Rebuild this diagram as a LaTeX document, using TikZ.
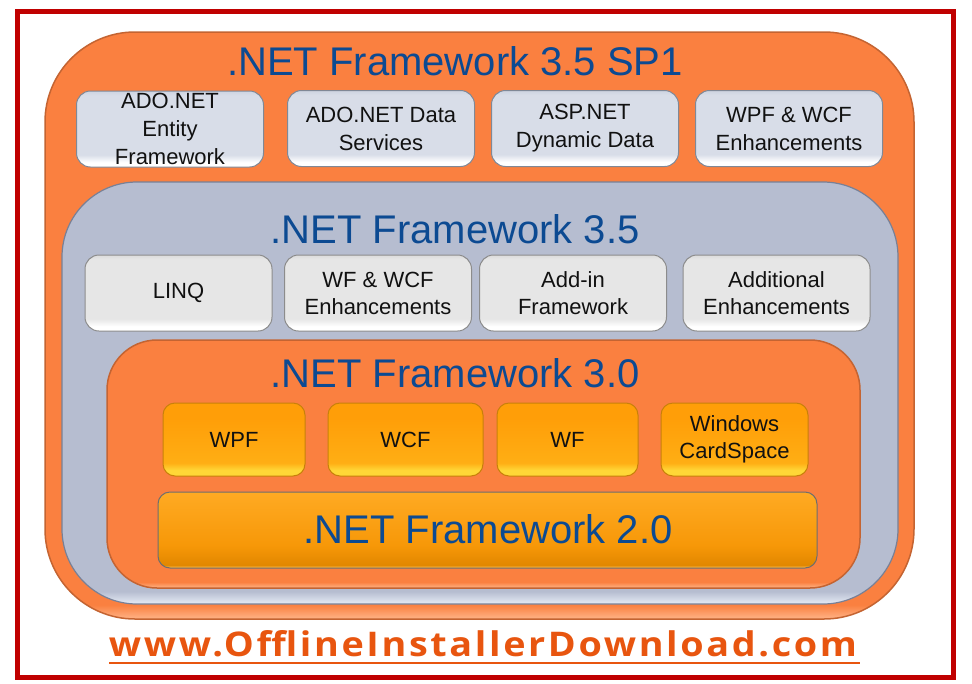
\documentclass[tikz,border=0pt]{standalone}
\usepackage{graphicx}
\usepackage{fontspec}
\setmainfont{Liberation Sans}
\newfontfamily\urlfont{Open Sans}[LetterSpace=7]
\definecolor{frameRed}{RGB}{192,0,0}
\definecolor{orMain}{RGB}{250,128,64}
\definecolor{orLight}{RGB}{255,180,135}
\definecolor{orEdge}{RGB}{196,100,50}
\definecolor{gbMain}{RGB}{182,189,208}
\definecolor{gbLight}{RGB}{230,236,246}
\definecolor{gbEdge}{RGB}{120,128,150}
\definecolor{btnA}{RGB}{216,221,232}
\definecolor{btnB}{RGB}{206,212,225}
\definecolor{btnEdge}{RGB}{128,136,150}
\definecolor{lgA}{RGB}{230,230,230}
\definecolor{lgB}{RGB}{220,220,220}
\definecolor{lgEdge}{RGB}{140,140,140}
\definecolor{yoA}{RGB}{255,158,8}
\definecolor{yoB}{RGB}{255,174,20}
\definecolor{yoC}{RGB}{255,215,55}
\definecolor{yoEdge}{RGB}{200,128,10}
\definecolor{nfA}{RGB}{255,170,35}
\definecolor{nfB}{RGB}{247,152,8}
\definecolor{nfC}{RGB}{226,135,0}
\definecolor{nfD}{RGB}{255,192,75}
\definecolor{nfEdge}{RGB}{110,110,110}
\definecolor{titleBlue}{RGB}{12,74,146}
\definecolor{urlOrange}{RGB}{232,85,15}
\definecolor{boxText}{RGB}{17,17,17}
\pgfdeclareverticalshading{orpanel}{100bp}{color(0bp)=(orLight); color(25bp)=(orLight); color(26.2bp)=(orMain); color(100bp)=(orMain)}
\pgfdeclareverticalshading{gbpanel}{100bp}{color(0bp)=(gbLight); color(25bp)=(gbLight); color(26.5bp)=(gbMain); color(100bp)=(gbMain)}
\pgfdeclareverticalshading{graybtn}{100bp}{color(0bp)=(white); color(25bp)=(white); color(28bp)=(white); color(33bp)=(btnA); color(72bp)=(btnA); color(75bp)=(btnB); color(100bp)=(btnB)}
\pgfdeclareverticalshading{lgbtn}{100bp}{color(0bp)=(white); color(25bp)=(white); color(28bp)=(white); color(33bp)=(lgA); color(72bp)=(lgA); color(75bp)=(lgB); color(100bp)=(lgB)}
\pgfdeclareverticalshading{yobtn}{100bp}{color(0bp)=(yoC); color(25bp)=(yoC); color(29bp)=(yoC); color(34bp)=(yoB); color(65bp)=(yoA); color(100bp)=(yoA)}
\pgfdeclareverticalshading{nfbtn}{100bp}{color(0bp)=(nfD); color(25bp)=(nfD); color(27bp)=(nfC); color(40bp)=(nfB); color(75bp)=(nfA); color(100bp)=(nfA)}
\begin{document}
\begin{tikzpicture}[x=1pt,y=-1pt,
  every node/.style={inner sep=0pt, outer sep=0pt},
  panelor/.style={shade, shading=orpanel, draw=orEdge, line width=1.5pt},
  panelgb/.style={shade, shading=gbpanel, draw=gbEdge, line width=1.2pt},
  sponebox/.style={shade, shading=graybtn, draw=btnEdge, line width=1pt, rounded corners=14pt,
    minimum width=187pt, minimum height=76pt, align=center, text=boxText, font=\fontsize{22}{28}\selectfont},
  lgbox/.style={shade, shading=lgbtn, draw=lgEdge, line width=1pt, rounded corners=14pt,
    minimum width=187pt, minimum height=76pt, align=center, text=boxText, font=\fontsize{22}{27}\selectfont},
  yobox/.style={shade, shading=yobtn, draw=yoEdge, line width=1pt, rounded corners=12pt,
    minimum height=73pt, align=center, text=boxText, font=\fontsize{22}{27}\selectfont},
  nfbox/.style={shade, shading=nfbtn, draw=nfEdge, line width=1pt, rounded corners=12pt},
  ttl/.style={anchor=base, text=titleBlue, font=\fontsize{40}{48}\selectfont}
]
\useasboundingbox (0,0) rectangle (972,683);
\fill[white] (0,0) rectangle (972,683);
\node[draw=frameRed, line width=5pt, minimum width=936pt, minimum height=665.5pt] (frame) at (485.5,344.25) {};

% outer panel 3.5 SP1
\node[panelor, rounded corners=90pt, minimum width=869pt, minimum height=587pt] (sp1) at (479.5,325.5) {};
\node[ttl] (tsp1) at (455,75) {.NET Framework 3.5 SP1};
\node[sponebox] (ado) at (170,129) {ADO.NET\\Entity\\Framework};
\node[sponebox] (ads) at (381,128.5) {ADO.NET Data\\Services};
\node[sponebox] (asp) at (585,128.5) {ASP.NET\\Dynamic Data};
\node[sponebox] (wpfwcf) at (789,128.5) {WPF \& WCF\\Enhancements};

% panel 3.5
\node[panelgb, rounded corners=75pt, minimum width=836pt, minimum height=422pt] (f35) at (480,393) {};
\node[ttl] (t35) at (455,243) {.NET Framework 3.5};
\node[lgbox] (linq) at (178.5,293) {LINQ};
\node[lgbox] (wfwcf) at (378,293) {WF \& WCF\\Enhancements};
\node[lgbox] (addin) at (573,293) {Add-in\\Framework};
\node[lgbox] (addl) at (776.5,293) {Additional\\Enhancements};

% panel 3.0
\node[panelor, rounded corners=50pt, minimum width=753pt, minimum height=248pt] (f30) at (483.5,464) {};
\node[ttl] (t30) at (455,387) {.NET Framework 3.0};
\node[yobox, minimum width=142pt] (wpf) at (234,439.5) {WPF};
\node[yobox, minimum width=155pt] (wcf) at (405.5,439.5) {WCF};
\node[yobox, minimum width=141pt] (wf) at (567.5,439.5) {WF};
\node[yobox, minimum width=147pt] (wcs) at (734.5,439.5) {Windows\\CardSpace};

% 2.0
\node[nfbox, minimum width=659pt, minimum height=76pt] (f20) at (487.5,530) {};
\node[ttl] (t20) at (488,543) {.NET Framework 2.0};

% url
\node[anchor=base, text=urlOrange] (url) at (483,656) {\resizebox{748pt}{26pt}{\urlfont\bfseries www.OfflineInstallerDownload.com}};
\coordinate (ula) at (109,663);
\coordinate (ulb) at (860,663);
\draw[urlOrange, line width=2pt] (ula) -- (ulb);
\end{tikzpicture}
\end{document}
